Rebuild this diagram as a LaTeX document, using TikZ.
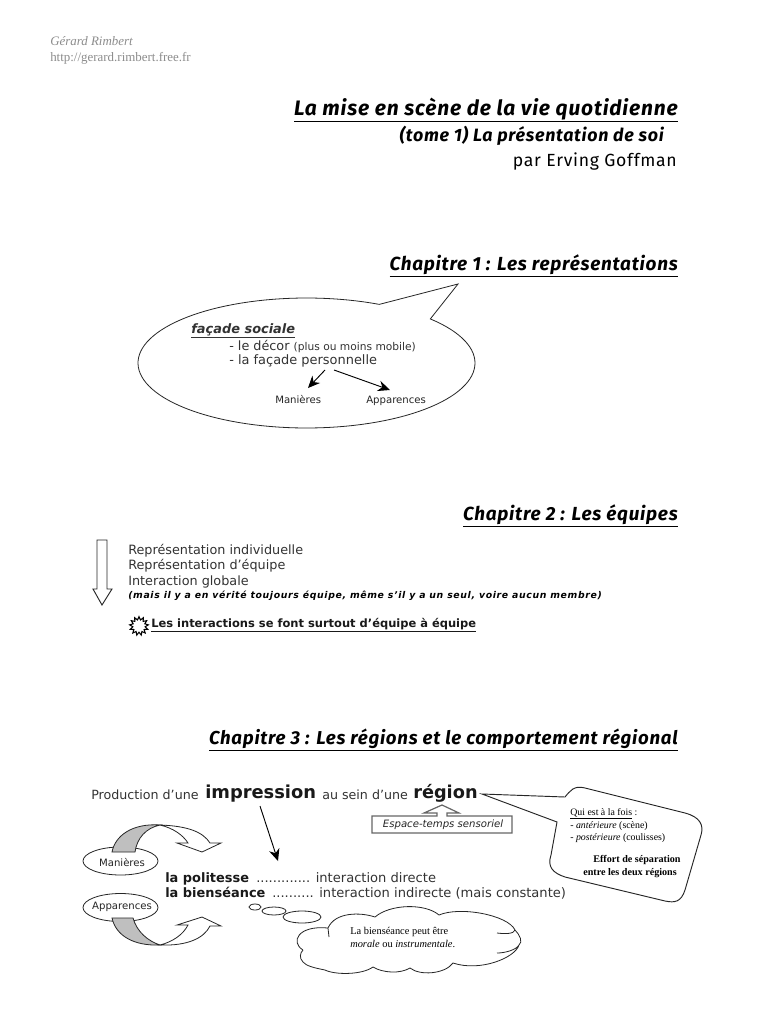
\documentclass[tikz,border=0pt]{standalone}
\usepackage{fontspec}
\setmainfont{DejaVu Sans}
\newfontfamily\serf{Liberation Serif}
\newfontfamily\titl[LetterSpace=4]{Fira Sans}
\usetikzlibrary{shapes.geometric,arrows.meta}
\definecolor{txt}{gray}{0.2}
\tikzset{
 lbl/.style={inner sep=0pt,anchor=base west,text=txt,font=\fontsize{#1}{#1}\selectfont},
 lbl/.default=9.6,
 ttl/.style={inner sep=0pt,anchor=base east,text=black,font=\titl\bfseries\itshape\fontsize{#1}{#1}\selectfont},
 sf/.style={inner sep=0pt,anchor=base west,text=black,font=\serf\fontsize{#1}{#1}\selectfont},
 line/.style={draw=black!85,line width=0.6pt},
 arr/.style={draw=black,line width=0.7pt,-{Stealth[length=9pt,width=8pt]}},
 tag/.style={draw=black!85,line width=0.6pt,ellipse,fill=white,inner sep=0pt,minimum width=56.25pt,minimum height=21pt},
 tagtxt/.style={inner sep=0pt,font=\fontsize{7.6}{7.6}\selectfont,text=black!85},
}
\begin{document}
\begin{tikzpicture}[x=0.75pt,y=-0.75pt]
\useasboundingbox (0,0) rectangle (768,1024);
\fill[white] (0,0) rectangle (768,1024);
% header
\node[sf=9.7,text=black!45,font=\serf\itshape\fontsize{9.7}{9.7}\selectfont] (auth) at (50,46) {Gérard Rimbert};
\node[sf=9.7,text=black!45] (url) at (50,62) {http://gerard.rimbert.free.fr};
% titles
\node[ttl=15.7] (t1) at (678,115) {\underline{La mise en scène de la vie quotidienne}};
\node[ttl=13.4] (t2) at (664,141) {(tome 1) La présentation de soi};
\node[ttl=13.2,font=\titl\fontsize{13.2}{13.2}\selectfont] (t3) at (677,166) {par Erving Goffman};
\node[ttl=14.2] (c1) at (678,270) {\underline{Chapitre 1 : Les représentations}};
\node[ttl=14.2] (c2) at (678,520) {\underline{Chapitre 2 : Les équipes}};
\node[ttl=14] (c3) at (678,744) {\underline{Chapitre 3 : Les régions et le comportement régional}};
% bubble 1
\draw[line] plot[domain=64.4:402.7,samples=120] ({306.5+168.5*cos(\x)},{363-65*sin(\x)}) -- (458,284) -- cycle;
\node[lbl=9.7,font=\bfseries\itshape\fontsize{9.7}{9.7}\selectfont] (fs) at (191,333) {\underline{façade sociale}};
\node[lbl=9.6] (f1) at (229,350) {- le décor {\fontsize{8}{8}\selectfont (plus ou moins mobile)}};
\node[lbl=9.7] (f2) at (229,364) {- la façade personnelle};
\node[lbl=7.6,text=black!85] (man) at (275,403) {Manières};
\node[lbl=7.6,text=black!85] (app) at (366,403) {Apparences};
\coordinate (fa) at (325,370);
\coordinate (fb) at (334,370);
\draw[arr] (fa) -- (308,388);
\draw[arr] (fb) -- (390,390);
% chapter 2
\draw[line,line width=0.7pt] (97,540) -- (107,540) -- (107,589) -- (112,589) -- (102,605) -- (93,589) -- (97,589) -- cycle;
\node[lbl=9.6] (r1) at (128,554) {Représentation individuelle};
\node[lbl=9.6] (r2) at (128,569) {Représentation d’équipe};
\node[lbl=9.6] (r3) at (128,585) {Interaction globale};
\node[lbl=7,font=\bfseries\itshape\fontsize{7}{7}\selectfont\addfontfeature{LetterSpace=6.9},text=black] (r4) at (128,598) {(mais il y a en vérité toujours équipe, même s'il y a un seul, voire aucun membre)};
\node[draw=black,line width=0.8pt,star,star points=13,star point ratio=1.5,minimum size=14pt,inner sep=0pt] (burst) at (139,626) {};
\node[lbl=8.6,font=\bfseries\fontsize{8.6}{8.6}\selectfont,text=black!90] (r5) at (151,627) {\underline{Les interactions se font surtout d'équipe à équipe}};
% chapter 3
\node[lbl=9.5] (p1) at (91,799) {Production d’une};
\node[lbl=9,font=\bfseries\fontsize{13.4}{13.4}\selectfont,text=black!90] (p2) at (205,798) {impression};
\node[lbl=9.5] (p3) at (322,799) {au sein d’une};
\node[lbl=9,font=\bfseries\fontsize{13.3}{13.3}\selectfont,text=black!90] (p4) at (413,798) {région};
\coordinate (ia) at (260,806);
\coordinate (ib) at (278,861);
\draw[arr] (ia) -- (ib);
% espace-temps
\draw[draw=black!60,line width=0.9pt] (372,816) -- (437,816) -- (437,813) -- (424,813) -- (442,805) -- (459,813) -- (447,813) -- (447,816) -- (512,816) -- (512,833) -- (372,833) -- cycle;
\node[lbl=7.6,font=\itshape\fontsize{7.6}{7.6}\selectfont,text=black!85,anchor=center] (esp) at (443,825) {Espace-temps sensoriel};
% callout
\coordinate (reg) at (482,794);
\draw[line,line width=0.7pt] (reg) -- (565,797) .. controls (570,791) and (574,785) .. (585,788) -- (685,813) .. controls (700,817) and (704,825) .. (701,835) -- (685,890) .. controls (681,902) and (675,903) .. (665,901) -- (565,877) .. controls (553,873) and (547,867) .. (551,855) -- (557,822) -- cycle;
\node[sf=7.4] (q1) at (570,815) {\underline{Qui est à la fois} :};
\node[sf=7.4] (q2) at (570,828) {- \textit{antérieure} (scène)};
\node[sf=7.4] (q3) at (570,840) {- \textit{postérieure} (coulisses)};
\node[sf=7.6,font=\serf\bfseries\fontsize{7.6}{7.6}\selectfont] (q4) at (593,862) {Effort de séparation};
\node[sf=7.6,font=\serf\bfseries\fontsize{7.6}{7.6}\selectfont] (q5) at (583,875) {entre les deux régions};
% curved arrows
\node[tag] (m) at (120.5,861) {};
\node[tag] (a) at (120.5,907.5) {};
\node[tagtxt] (mt) at (122,863) {Manières};
\node[tagtxt] (at) at (122,907) {Apparences};
\draw[line,fill=white] (160,825) .. controls (188,826) and (203,832) .. (210,843) -- (221,843) -- (202,852) -- (177,843) -- (188,843) .. controls (183,835) and (173,828) .. (160,825) -- cycle;
\draw[line,fill=black!25] (112,852) .. controls (115,836) and (132,823) .. (160,825) .. controls (146,828) and (137,838) .. (135,852) -- cycle;
\draw[line,fill=white] (160,945) .. controls (188,946) and (204,938) .. (210,926) -- (221,926) -- (202,917) -- (177,925) -- (188,925) .. controls (183,935) and (172,942) .. (160,945) -- cycle;
\draw[line,fill=black!25] (112,918) .. controls (116,936) and (134,946) .. (160,945) .. controls (148,941) and (137,932) .. (133,918) -- cycle;
% politeness
\node[lbl=9.7,font=\bfseries\fontsize{9.7}{9.7}\selectfont,text=black!90] (l1) at (165,882) {la politesse};
\node[lbl=9.8] (l1b) at (256,882) {............. interaction directe};
\node[lbl=9.7,font=\bfseries\fontsize{9.7}{9.7}\selectfont,text=black!90] (l2) at (165,897) {la bienséance};
\node[lbl=9.8] (l2b) at (272,897) {.......... interaction indirecte (mais constante)};
% thought cloud
\draw[line] (255,907) ellipse (6 and 3);
\draw[line] (274,911) ellipse (12 and 4);
\draw[line] (302,917) ellipse (19 and 6);
\draw[line] (303,950) .. controls (290,942) and (298,925) .. (328,928) -- (329,937)
 (328,928) .. controls (335,912) and (360,912) .. (375,917)
 .. controls (390,904) and (425,903) .. (439,915)
 .. controls (460,906) and (508,915) .. (515,930) .. controls (514,934) and (505,934) .. (497,933)
 (515,930) .. controls (520,935) and (523,942) .. (519,945) .. controls (516,950) and (505,953) .. (497,953)
 (519,945) .. controls (515,958) and (480,972) .. (453,963)
 .. controls (445,974) and (420,976) .. (410,968)
 .. controls (400,974) and (383,973) .. (373,967)
 .. controls (362,975) and (335,975) .. (325,970) .. controls (315,968) and (306,966) .. (303,962)
 .. controls (299,958) and (300,953) .. (303,950);
\node[sf=7.8] (b1) at (350,934) {La bienséance peut être};
\node[sf=7.8] (b2) at (350,947) {\textit{morale} ou \textit{instrumentale}.};
\end{tikzpicture}
\end{document}
